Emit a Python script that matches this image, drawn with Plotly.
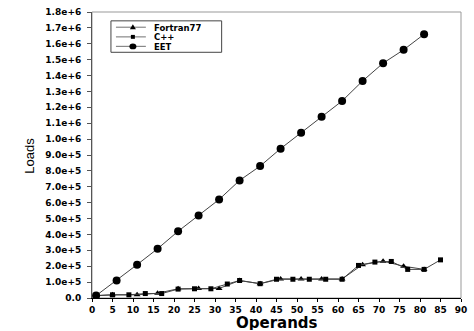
import plotly.graph_objects as go

# Operand counts and load counts per implementation
fortran_x = [1, 5, 11, 16, 21, 26, 31, 36, 41, 46, 51, 56, 61, 66, 71, 76, 81]
fortran_y = [15000, 20000, 20000, 30000, 58000, 60000, 60000, 110000, 90000,
             120000, 120000, 120000, 120000, 210000, 232000, 200000, 180000]

cpp_x = [1, 5, 9, 13, 17, 21, 25, 29, 33, 36, 41, 45, 49, 53, 57, 61,
         65, 69, 73, 77, 81, 85]
cpp_y = [15000, 20000, 20000, 28000, 28000, 56000, 58000, 58000, 88000, 110000,
         90000, 118000, 118000, 118000, 118000, 118000, 205000, 226000, 230000,
         180000, 180000, 240000]

eet_x = [1, 6, 11, 16, 21, 26, 31, 36, 41, 46, 51, 56, 61, 66, 71, 76, 81]
eet_y = [15000, 110000, 210000, 310000, 420000, 520000, 620000, 740000, 830000,
         940000, 1040000, 1140000, 1240000, 1366000, 1478000, 1562000, 1660000]

series_names = ["Fortran77", "C++", "EET"]

y_tick_vals = [i * 100000 for i in range(19)]
y_tick_text = ["0.0", "1.0e+5", "2.0e+5", "3.0e+5", "4.0e+5", "5.0e+5", "6.0e+5",
               "7.0e+5", "8.0e+5", "9.0e+5", "1.0e+6", "1.1e+6", "1.2e+6",
               "1.3e+6", "1.4e+6", "1.5e+6", "1.6e+6", "1.7e+6", "1.8e+6"]
x_tick_vals = list(range(0, 91, 5))

W, H = 474, 331
ML, MR, MT, MB = 92, 12, 7, 33
PW, PH = W - ML - MR, H - MT - MB

TICK_FONT = "DejaVu Sans, Verdana, sans-serif"
LINE = "#444444"


def px(x):
    return (x - ML) / PW


def py(y):
    return (H - MB - y) / PH


fig = go.Figure()
symbols = [("triangle-up", 6), ("square", 5), ("circle", 8)]
for name, xs, ys, (sym, size) in zip(series_names, [fortran_x, cpp_x, eet_x],
                                     [fortran_y, cpp_y, eet_y], symbols):
    fig.add_trace(go.Scatter(
        x=xs, y=ys, name=name, mode="lines+markers",
        line=dict(color=LINE, width=1),
        marker=dict(symbol=sym, size=size, color="black")))

# Compact legend box drawn with shapes and annotations
shapes = [
    dict(type="rect", xref="paper", yref="paper", x0=0, y0=0, x1=1, y1=1,
         line=dict(color="#999999", width=1), layer="below"),
    dict(type="rect", xref="paper", yref="paper",
         x0=px(111), x1=px(222), y0=py(48), y1=py(16),
         line=dict(color="#444444", width=1), fillcolor="white"),
]
annotations = []
row_y = [22.5, 32.3, 42]
for i, name in enumerate(series_names):
    yy = row_y[i]
    shapes.append(dict(type="line", xref="paper", yref="paper",
                       x0=px(116), x1=px(146), y0=py(yy), y1=py(yy),
                       line=dict(color="#888888", width=1.2)))
    cx = 133
    if i == 0:
        path = "M {0},{1} L {2},{1} L {3},{4} Z".format(
            px(cx - 3), py(yy + 2), px(cx + 3), px(cx), py(yy - 3))
        shapes.append(dict(type="path", xref="paper", yref="paper", path=path,
                           fillcolor="black", line=dict(width=0)))
    elif i == 1:
        shapes.append(dict(type="rect", xref="paper", yref="paper",
                           x0=px(cx - 2), x1=px(cx + 2), y0=py(yy + 2), y1=py(yy - 2),
                           fillcolor="black", line=dict(width=0)))
    else:
        shapes.append(dict(type="circle", xref="paper", yref="paper",
                           x0=px(cx - 3.5), x1=px(cx + 3.5), y0=py(yy + 3), y1=py(yy - 3),
                           fillcolor="black", line=dict(width=0)))
    annotations.append(dict(text=name, xref="paper", yref="paper",
                            x=px(153), y=py(yy), xanchor="left", yanchor="middle",
                            showarrow=False, height=9, borderpad=0, valign="middle",
                            font=dict(family=TICK_FONT, size=8.5, color="black",
                                      weight="bold")))

annotations += [
    dict(text="Loads", xref="paper", yref="paper", x=px(29), y=py(153),
         xanchor="center", yanchor="middle", textangle=-90, showarrow=False,
         font=dict(family="Liberation Sans Narrow, Arial Narrow, Liberation Sans, sans-serif",
                   size=13, color="black")),
    dict(text="Operands", xref="paper", yref="paper", x=px(277), y=py(323),
         xanchor="center", yanchor="middle", showarrow=False,
         height=15, borderpad=0, valign="middle",
         font=dict(family=TICK_FONT, size=15, color="black", weight="bold")),
]

fig.update_layout(
    width=W, height=H,
    margin=dict(l=ML, r=MR, t=MT, b=MB),
    paper_bgcolor="white", plot_bgcolor="white",
    showlegend=False,
    xaxis=dict(
        range=[0, 90], tickvals=x_tick_vals, showgrid=False, zeroline=False,
        showline=True, linecolor="black", linewidth=1,
        ticks="outside", ticklen=3, tickcolor="black",
        tickfont=dict(family=TICK_FONT, size=9, color="black", weight="bold"),
    ),
    yaxis=dict(
        range=[0, 1800000], tickvals=y_tick_vals, ticktext=y_tick_text,
        showgrid=False, zeroline=False,
        showline=True, linecolor="#555555", linewidth=1,
        ticks="outside", ticklen=4, tickcolor="#555555",
        tickfont=dict(family=TICK_FONT, size=9, color="black", weight="bold"),
        ticklabelstandoff=4,
    ),
    shapes=shapes,
    annotations=annotations,
)

fig.write_html("out.html")
